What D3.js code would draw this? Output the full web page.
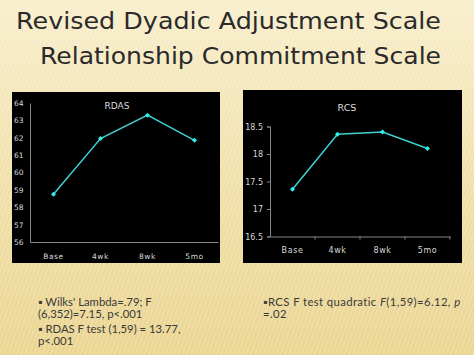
<!DOCTYPE html>
<html><head><meta charset="utf-8">
<script src="https://cdn.jsdelivr.net/npm/d3@7"></script>
<style>html,body{margin:0;padding:0;overflow:hidden;background:#f3e4b4}</style>
</head><body>
<script>
const categories = ["Base", "4wk", "8wk", "5mo"];
const rdasValues = [58.75, 61.95, 63.3, 61.85];
const rcsValues = [17.36, 18.36, 18.4, 18.1];
const rdasTicks = [56, 57, 58, 59, 60, 61, 62, 63, 64];
const rcsTicks = [16.5, 17, 17.5, 18, 18.5];
const titleLines = ["Revised Dyadic Adjustment Scale", "Relationship Commitment Scale"];

const W = 474, H = 355;
const svg = d3.select("body").append("svg").attr("width", W).attr("height", H);
const defs = svg.append("defs");
const g = defs.append("linearGradient").attr("id","bg").attr("x1",0).attr("y1",0).attr("x2",0).attr("y2",1);
g.append("stop").attr("offset","0%").attr("stop-color","#f8eecb");
g.append("stop").attr("offset","50%").attr("stop-color","#f1e0a9");
g.append("stop").attr("offset","100%").attr("stop-color","#ead48f");
const pat = defs.append("pattern").attr("id","stripes").attr("patternUnits","userSpaceOnUse")
  .attr("width",4).attr("height",4).attr("patternTransform","rotate(20)");
pat.append("rect").attr("width",1.5).attr("height",4).attr("fill","#fff").attr("opacity",0.22);
svg.append("rect").attr("width",W).attr("height",H).attr("fill","url(#bg)");
svg.append("rect").attr("width",W).attr("height",H).attr("fill","url(#stripes)");

const font = "'DejaVu Sans',sans-serif";
svg.append("text").attr("x",16).attr("y",29).attr("font-family",font).attr("font-size",22.5)
  .attr("fill","#2a2a2a").attr("textLength",425).attr("lengthAdjust","spacingAndGlyphs").text(titleLines[0]);
svg.append("text").attr("x",40).attr("y",64).attr("font-family",font).attr("font-size",22.5)
  .attr("fill","#2a2a2a").attr("textLength",401).attr("lengthAdjust","spacingAndGlyphs").text(titleLines[1]);

function chart(opts){
  const {box, x0, x1, y0, y1, domain, ticks, values, title, titleX, titleY, tickLabelX, showTicks, labelY, fmt} = opts;
  svg.append("rect").attr("x",box[0]).attr("y",box[1]).attr("width",box[2]-box[0]).attr("height",box[3]-box[1]).attr("fill","#000");
  const x = d3.scaleBand().domain(categories).range([x0,x1]);
  const y = d3.scaleLinear().domain(domain).range([y1,y0]);
  const gray = "#888";
  const yAxis = d3.axisLeft(y).tickValues(ticks).tickSize(showTicks?3:0).tickPadding(tickLabelX).tickFormat(fmt);
  const ya = svg.append("g").attr("transform",`translate(${x0},0)`).call(yAxis);
  ya.select(".domain").attr("stroke",gray);
  ya.selectAll(".tick line").attr("stroke",gray);
  ya.selectAll("text").attr("fill","#d8d8d8").attr("font-family","'DejaVu Sans',sans-serif").attr("font-size",opts.fs);
  if(opts.leftAlign){ ya.selectAll("text").attr("text-anchor","start").attr("x",opts.leftAlign - x0); }
  const xAxis = d3.axisBottom(x).tickSize(0).tickPadding(labelY);
  const xa = svg.append("g").attr("transform",`translate(0,${y1})`).call(xAxis);
  xa.select(".domain").attr("stroke",gray);
  xa.selectAll("text").attr("fill","#d8d8d8").attr("font-family","'DejaVu Sans',sans-serif").attr("font-size",opts.fs).attr("letter-spacing",0.6);
  if(showTicks){
    xa.selectAll(".sep").data(categories).enter().append("line").attr("class","sep")
      .attr("x1",d=>x(d)+x.bandwidth()).attr("x2",d=>x(d)+x.bandwidth()).attr("y1",0).attr("y2",3).attr("stroke",gray);
  }
  svg.append("text").attr("x",titleX).attr("y",titleY).attr("text-anchor","middle").attr("fill","#ddd")
    .attr("font-family","'DejaVu Sans',sans-serif").attr("font-size",opts.fs+1.5).text(title);
  const pts = categories.map((c,i)=>[x(c)+x.bandwidth()/2, y(values[i])]);
  svg.append("path").attr("d",d3.line()(pts)).attr("fill","none").attr("stroke","#3fd0d0").attr("stroke-width",1.5);
  svg.selectAll(null).data(pts).enter().append("path")
    .attr("d",d3.symbol(d3.symbolDiamond2,16)()).attr("transform",d=>`translate(${d[0]},${d[1]})`).attr("fill","#2ef0f0");
}

chart({box:[12,92,220,263], x0:30, x1:218, y0:103, y1:242, domain:[56,64], ticks:rdasTicks, values:rdasValues,
  title:"RDAS", titleX:117, titleY:109, tickLabelX:8, showTicks:false, labelY:12, fs:7.5, leftAlign:14, fmt:d3.format("d")});
chart({box:[243,90,462,263], x0:270, x1:450, y0:126.5, y1:236.5, domain:[16.5,18.5], ticks:rcsTicks, values:rcsValues,
  title:"RCS", titleX:347, titleY:111, tickLabelX:4, showTicks:true, labelY:11, fs:8, fmt:d=>String(d)});

const nfont = "'Lato','Open Sans',sans-serif";
const notes = svg.append("g").attr("font-family",nfont).attr("font-size",11.3).attr("fill","#3a3a3a");
const bl = [["▪  ", "Wilks' Lambda=.79; F", 38, 306],["", "(6,352)=7.15, p<.001", 38, 318],["▪  ","RDAS F test (1,59) = 13.77,",38,333],["","p<.001",38,345]];
bl.forEach(b=>notes.append("text").attr("x",b[2]).attr("y",b[3]).text(b[0]+b[1]));
const r1 = notes.append("text").attr("x",263).attr("y",306).attr("letter-spacing",0.4);
r1.append("tspan").text("▪RCS F test quadratic ");
r1.append("tspan").attr("font-style","italic").text("F");
r1.append("tspan").text("(1,59)=6.12, ");
r1.append("tspan").attr("font-style","italic").text("p");
notes.append("text").attr("x",263).attr("y",318).attr("letter-spacing",0.4).text("=.02");
</script>
</body></html>
